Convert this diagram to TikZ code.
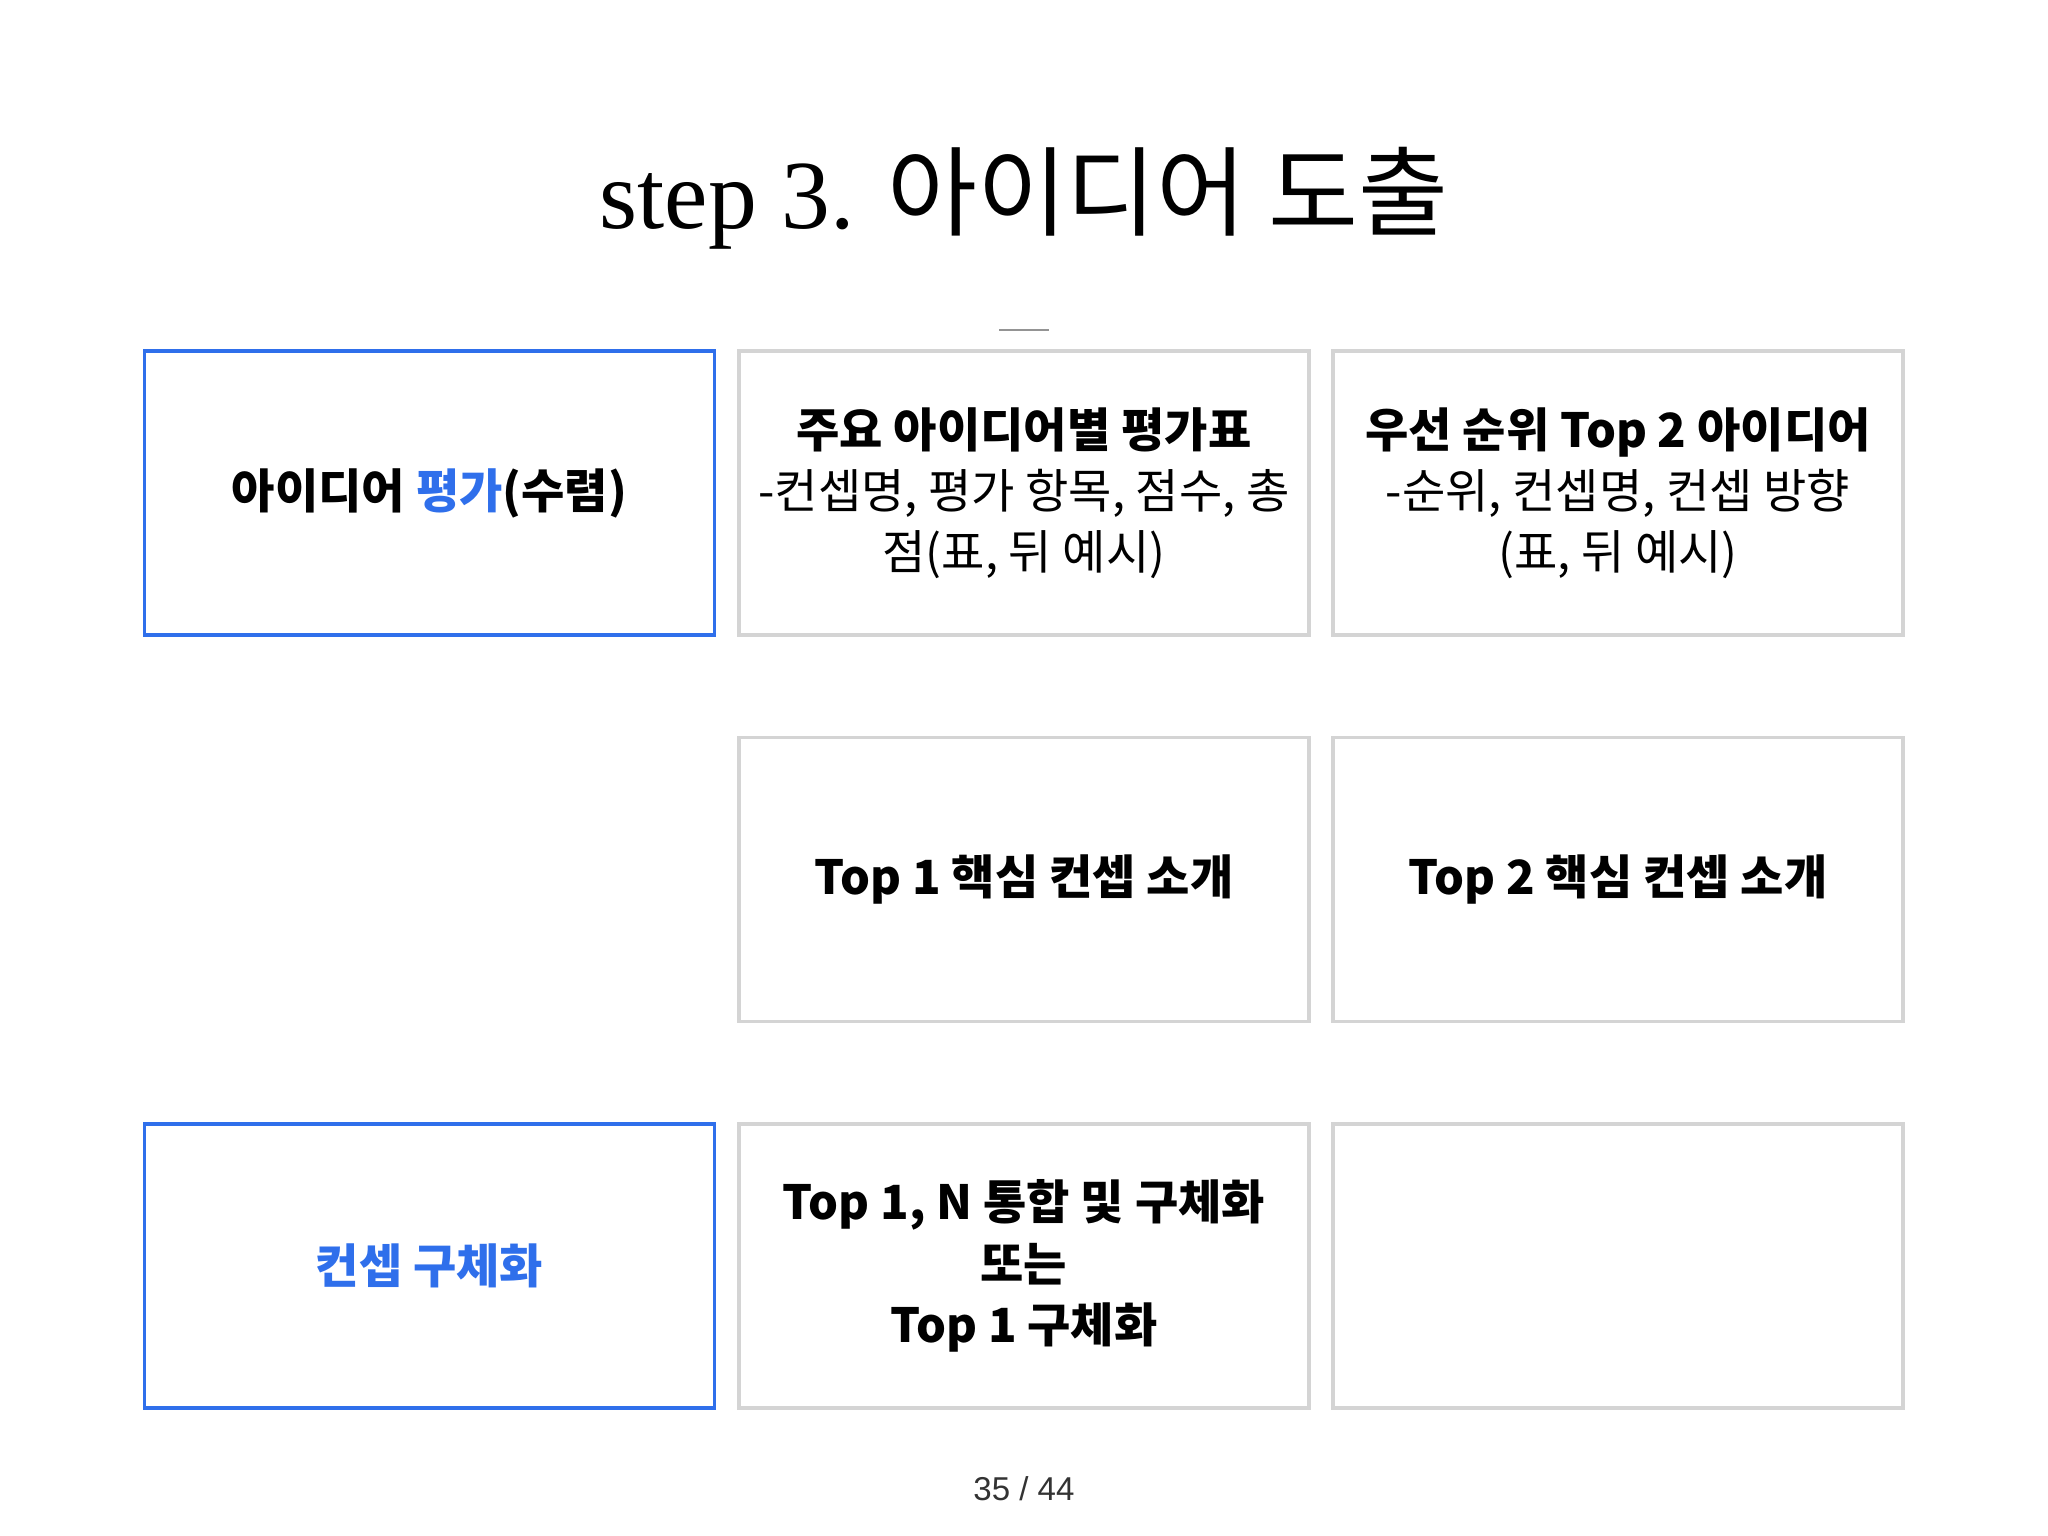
\documentclass[tikz,border=0pt]{standalone}
\usepackage{fontspec}
\setmainfont{Liberation Serif}
\newfontfamily\krfont{Noto Sans CJK KR}
\newfontfamily\pagefont{Liberation Sans}
\definecolor{keyblue}{HTML}{2F6FEB}
\definecolor{cellgray}{HTML}{D4D4D4}
\tikzset{
  cell/.style={draw=cellgray, line width=0.9pt, minimum width=5.7cm,
    minimum height=2.84cm, align=center,
    font=\krfont\fontsize{13.4}{17.4}\selectfont},
  keycell/.style={cell, draw=keyblue},
}

\begin{document}
\begin{tikzpicture}
    \useasboundingbox (0,0) rectangle (20.48,-15.36);
    % title
    \node[anchor=base] (title) at (10.24,-2.29)
        {\fontsize{27.8}{32}\selectfont step 3. {\krfont 아이디어 도출}};
    \draw[cellgray!70!black, line width=0.5pt] (9.99,-3.30) -- (10.49,-3.30);

    % first row
    \node[keycell] (eval) at (4.295,-4.93)
        {\bfseries 아이디어 {\color{keyblue}평가}(수렴)};
    \node[cell] (table) at (10.24,-4.93)
        {{\bfseries 주요 아이디어별 평가표}\\-컨셉명, 평가 항목, 점수, 총\\점(표, 뒤 예시)};
    \node[cell] (rank) at (16.18,-4.93)
        {{\bfseries 우선 순위 Top 2 아이디어}\\-순위, 컨셉명, 컨셉 방향\\(표, 뒤 예시)};

    % second row
    \node[cell] (topone) at (10.24,-8.795) {\bfseries Top 1 핵심 컨셉 소개};
    \node[cell] (toptwo) at (16.18,-8.795) {\bfseries Top 2 핵심 컨셉 소개};

    % third row
    \node[keycell] (concept) at (4.295,-12.66)
        {\bfseries\color{keyblue}컨셉 구체화};
    \node[cell] (merge) at (10.24,-12.66)
        {\bfseries Top 1, N 통합 및 구체화\\ \bfseries 또는\\ \bfseries Top 1 구체화};
    \node[cell] (blank) at (16.18,-12.66) {};

    % page number
    \node (page) at (10.24,-14.89)
        {\pagefont\fontsize{9.4}{11}\selectfont\color{black!80}35 / 44};
\end{tikzpicture}
\end{document}
